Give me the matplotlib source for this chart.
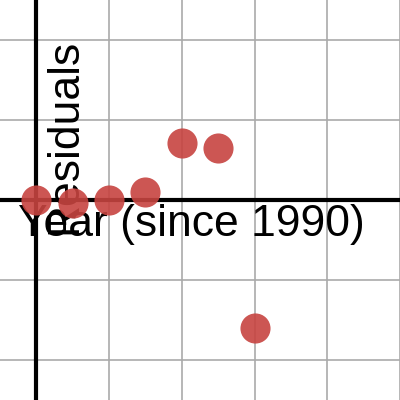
import matplotlib
matplotlib.use("Agg")
import matplotlib.pyplot as plt
import numpy as np

years = [0, 1, 2, 3, 4, 5, 6]
residuals = [0.0, -0.04, 0.0, 0.1, 0.71, 0.65, -1.6]

fig = plt.figure(figsize=(4, 4), dpi=100)
ax = fig.add_axes([0, 0, 1, 1])
ax.set_xlim(-1, 10)
ax.set_ylim(-2.5, 2.5)
for gx in np.arange(-2, 12, 2):
    ax.axvline(gx, color='#aaaaaa', lw=1.2, zorder=0)
for gy in np.arange(-3, 4, 1):
    ax.axhline(gy, color='#aaaaaa', lw=1.2, zorder=0)
ax.axvline(0, color='black', lw=3, zorder=1)
ax.axhline(0, color='black', lw=3, zorder=1)
ax.scatter(years, residuals, s=470, color='#c74440', alpha=0.9, zorder=3, linewidths=0)
ax.text(0.478, 0.49, "Year (since 1990)", transform=ax.transAxes, ha='center', va='top',
        fontsize=32, family='Liberation Sans', zorder=2)
ax.text(0.162, 0.415, "Residuals", transform=ax.transAxes, ha='center', va='bottom', rotation=90,
        fontsize=32, family='Liberation Sans', zorder=2)
ax.set_xticks([]); ax.set_yticks([])
for s in ax.spines.values():
    s.set_visible(False)
fig.savefig("out.png", dpi=100)
